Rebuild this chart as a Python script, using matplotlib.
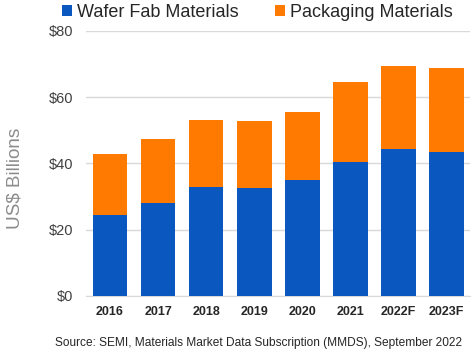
import matplotlib.pyplot as plt
import numpy as np

plt.rcParams["font.family"] = ["Liberation Sans", "DejaVu Sans"]

# Values (US$ billions)
years = ["2016", "2017", "2018", "2019", "2020", "2021", "2022F", "2023F"]
wafer_fab = [24.6, 28.2, 33.0, 32.7, 35.0, 40.5, 44.4, 43.6]
packaging = [18.4, 19.3, 20.0, 20.0, 20.5, 24.1, 25.1, 25.3]
y_ticks = [0, 20, 40, 60, 80]

BLUE = "#0b57c0"
ORANGE = "#ff7a00"

fig = plt.figure(figsize=(4.74, 3.57), dpi=100)
ax = fig.add_axes([0.1814, 0.1709, 0.8112, 0.7423])

x = np.arange(len(years))
width = 0.72
b1 = ax.bar(x, wafer_fab, width, color=BLUE, label="Wafer Fab Materials", zorder=3)
b2 = ax.bar(x, packaging, width, bottom=wafer_fab, color=ORANGE,
            label="Packaging Materials", zorder=3)

ax.set_xlim(-0.5, len(years) - 0.5)
ax.set_ylim(0, 80)
ax.set_yticks(y_ticks)
ax.set_yticklabels([f"${v}" for v in y_ticks], color="#404040", fontsize=10.5)
ax.set_xticks(x)
ax.set_xticklabels(years, fontweight="bold", color="#262626", fontsize=9)
ax.tick_params(length=0)
ax.tick_params(axis="y", pad=9)
ax.tick_params(axis="x", pad=7)

ax.grid(axis="y", color="#d9d9d9", linewidth=1, zorder=0)
for s in ["top", "right", "left"]:
    ax.spines[s].set_visible(False)
ax.spines["bottom"].set_color("#d9d9d9")

ax.set_ylabel("US$ Billions", color="#8c8c8c", fontsize=13.6)
ax.yaxis.set_label_coords(-0.163, 0.445)

fig.legend(handles=[b1, b2], loc="upper center", bbox_to_anchor=(0.543, 1.035),
           ncol=2, frameon=False, fontsize=13.0, handlelength=0.55,
           handleheight=0.55, handletextpad=0.3, columnspacing=2.0,
           labelcolor="#262626")

fig.text(0.545, 0.04, "Source: SEMI, Materials Market Data Subscription (MMDS), September 2022",
         ha="center", va="center", fontsize=8.6, color="#262626")

fig.savefig("out.png", dpi=100)
